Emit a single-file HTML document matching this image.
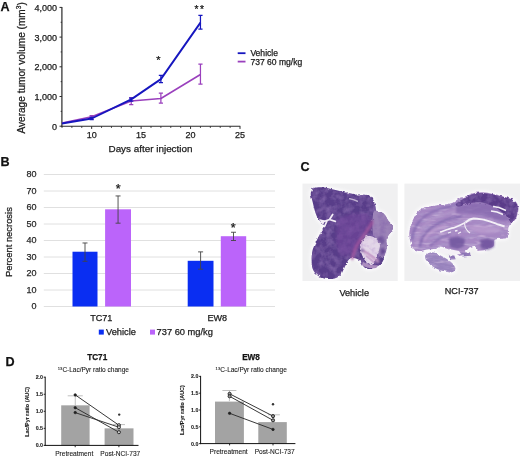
<!DOCTYPE html>
<html><head><meta charset="utf-8"><style>
html,body{margin:0;padding:0;background:#fff;width:520px;height:468px;overflow:hidden}
svg{display:block}
text{font-family:"Liberation Sans", Arial, sans-serif}
text{stroke:#1a1a1a;stroke-width:0.25px}
.s{stroke-width:0.1px}
</style></head><body>
<svg width="520" height="468" viewBox="0 0 520 468">
<text x="0.5" y="11" font-size="12.6" font-weight="bold" fill="#111">A</text>
<line x1="61.9" y1="7" x2="61.9" y2="126.8" stroke="#2a2a2a" stroke-width="1.2"/>
<line x1="61.3" y1="126.3" x2="240.3" y2="126.3" stroke="#2a2a2a" stroke-width="1.1"/>
<line x1="59.50" y1="126.20" x2="61.9" y2="126.20" stroke="#2a2a2a" stroke-width="1"/>
<text x="57" y="129.60" font-size="9" text-anchor="end" fill="#222">0</text>
<line x1="60.70" y1="111.35" x2="61.9" y2="111.35" stroke="#2a2a2a" stroke-width="1"/>
<line x1="59.50" y1="96.50" x2="61.9" y2="96.50" stroke="#2a2a2a" stroke-width="1"/>
<text x="57" y="99.90" font-size="9" text-anchor="end" fill="#222">1,000</text>
<line x1="60.70" y1="81.65" x2="61.9" y2="81.65" stroke="#2a2a2a" stroke-width="1"/>
<line x1="59.50" y1="66.80" x2="61.9" y2="66.80" stroke="#2a2a2a" stroke-width="1"/>
<text x="57" y="70.20" font-size="9" text-anchor="end" fill="#222">2,000</text>
<line x1="60.70" y1="51.95" x2="61.9" y2="51.95" stroke="#2a2a2a" stroke-width="1"/>
<line x1="59.50" y1="37.10" x2="61.9" y2="37.10" stroke="#2a2a2a" stroke-width="1"/>
<text x="57" y="40.50" font-size="9" text-anchor="end" fill="#222">3,000</text>
<line x1="60.70" y1="22.25" x2="61.9" y2="22.25" stroke="#2a2a2a" stroke-width="1"/>
<line x1="59.50" y1="7.40" x2="61.9" y2="7.40" stroke="#2a2a2a" stroke-width="1"/>
<text x="57" y="10.80" font-size="9" text-anchor="end" fill="#222">4,000</text>
<line x1="62.00" y1="126.3" x2="62.00" y2="127.80" stroke="#2a2a2a" stroke-width="1"/>
<line x1="71.89" y1="126.3" x2="71.89" y2="127.80" stroke="#2a2a2a" stroke-width="1"/>
<line x1="81.78" y1="126.3" x2="81.78" y2="127.80" stroke="#2a2a2a" stroke-width="1"/>
<line x1="91.67" y1="126.3" x2="91.67" y2="128.90" stroke="#2a2a2a" stroke-width="1"/>
<text x="91.67" y="138" font-size="9" text-anchor="middle" fill="#222">10</text>
<line x1="101.56" y1="126.3" x2="101.56" y2="127.80" stroke="#2a2a2a" stroke-width="1"/>
<line x1="111.44" y1="126.3" x2="111.44" y2="127.80" stroke="#2a2a2a" stroke-width="1"/>
<line x1="121.33" y1="126.3" x2="121.33" y2="127.80" stroke="#2a2a2a" stroke-width="1"/>
<line x1="131.22" y1="126.3" x2="131.22" y2="127.80" stroke="#2a2a2a" stroke-width="1"/>
<line x1="141.11" y1="126.3" x2="141.11" y2="128.90" stroke="#2a2a2a" stroke-width="1"/>
<text x="141.11" y="138" font-size="9" text-anchor="middle" fill="#222">15</text>
<line x1="151.00" y1="126.3" x2="151.00" y2="127.80" stroke="#2a2a2a" stroke-width="1"/>
<line x1="160.89" y1="126.3" x2="160.89" y2="127.80" stroke="#2a2a2a" stroke-width="1"/>
<line x1="170.78" y1="126.3" x2="170.78" y2="127.80" stroke="#2a2a2a" stroke-width="1"/>
<line x1="180.67" y1="126.3" x2="180.67" y2="127.80" stroke="#2a2a2a" stroke-width="1"/>
<line x1="190.56" y1="126.3" x2="190.56" y2="128.90" stroke="#2a2a2a" stroke-width="1"/>
<text x="190.56" y="138" font-size="9" text-anchor="middle" fill="#222">20</text>
<line x1="200.45" y1="126.3" x2="200.45" y2="127.80" stroke="#2a2a2a" stroke-width="1"/>
<line x1="210.33" y1="126.3" x2="210.33" y2="127.80" stroke="#2a2a2a" stroke-width="1"/>
<line x1="220.22" y1="126.3" x2="220.22" y2="127.80" stroke="#2a2a2a" stroke-width="1"/>
<line x1="230.11" y1="126.3" x2="230.11" y2="127.80" stroke="#2a2a2a" stroke-width="1"/>
<line x1="240.00" y1="126.3" x2="240.00" y2="128.90" stroke="#2a2a2a" stroke-width="1"/>
<text x="240.00" y="138" font-size="9" text-anchor="middle" fill="#222">25</text>
<text x="150.5" y="152.2" font-size="9.9" text-anchor="middle" fill="#222">Days after injection</text>
<text transform="translate(24.9,67.9) rotate(-90)" font-size="10.1" text-anchor="middle" fill="#222">Average tumor volume (mm<tspan font-size="6.5" dy="-3.5">3</tspan><tspan dy="3.5">)</tspan></text>
<polyline points="62.00,123.00 91.67,116.80 131.22,101.00 160.89,98.50 200.45,74.50" fill="none" stroke="#9a40bd" stroke-width="1.55" stroke-linejoin="round"/>
<path d="M89.57,115.50H93.77M91.67,115.50V118.20M89.57,118.20H93.77" stroke="#9a40bd" stroke-width="1.25" fill="none"/>
<path d="M129.12,97.50H133.32M131.22,97.50V104.60M129.12,104.60H133.32" stroke="#9a40bd" stroke-width="1.25" fill="none"/>
<path d="M158.79,93.00H162.99M160.89,93.00V103.20M158.79,103.20H162.99" stroke="#9a40bd" stroke-width="1.25" fill="none"/>
<path d="M198.35,64.00H202.55M200.45,64.00V84.00M198.35,84.00H202.55" stroke="#9a40bd" stroke-width="1.25" fill="none"/>
<polyline points="62.00,123.50 91.67,118.50 131.22,99.40 160.89,79.10 200.45,22.60" fill="none" stroke="#1616bf" stroke-width="1.9" stroke-linejoin="round"/>
<path d="M89.57,117.30H93.77M91.67,117.30V119.70M89.57,119.70H93.77" stroke="#1616bf" stroke-width="1.25" fill="none"/>
<path d="M129.12,98.00H133.32M131.22,98.00V101.00M129.12,101.00H133.32" stroke="#1616bf" stroke-width="1.25" fill="none"/>
<path d="M158.79,75.40H162.99M160.89,75.40V82.50M158.79,82.50H162.99" stroke="#1616bf" stroke-width="1.25" fill="none"/>
<path d="M198.35,15.30H202.55M200.45,15.30V29.20M198.35,29.20H202.55" stroke="#1616bf" stroke-width="1.25" fill="none"/>
<text x="158.49" y="63.7" font-size="11" text-anchor="middle" fill="#111">*</text>
<text x="199.9" y="12.5" font-size="10.2" letter-spacing="1.5" text-anchor="middle" fill="#111">**</text>
<line x1="237.7" y1="53.2" x2="245.5" y2="53.2" stroke="#1616bf" stroke-width="1.8"/>
<line x1="237.7" y1="61.6" x2="245.5" y2="61.6" stroke="#9a40bd" stroke-width="1.8"/>
<text x="250.4" y="56.4" font-size="8.55" fill="#222">Vehicle</text>
<text x="250.4" y="65" font-size="8.55" fill="#222">737 60 mg/kg</text>
<text x="0.6" y="166" font-size="12.6" font-weight="bold" fill="#111">B</text>
<line x1="43.8" y1="306.50" x2="275" y2="306.50" stroke="#e0e0e0" stroke-width="1"/>
<text x="36.6" y="309.10" font-size="9" text-anchor="end" fill="#333">0</text>
<line x1="43.8" y1="290.00" x2="275" y2="290.00" stroke="#e0e0e0" stroke-width="1"/>
<text x="36.6" y="292.60" font-size="9" text-anchor="end" fill="#333">10</text>
<line x1="43.8" y1="273.50" x2="275" y2="273.50" stroke="#e0e0e0" stroke-width="1"/>
<text x="36.6" y="276.10" font-size="9" text-anchor="end" fill="#333">20</text>
<line x1="43.8" y1="257.00" x2="275" y2="257.00" stroke="#e0e0e0" stroke-width="1"/>
<text x="36.6" y="259.60" font-size="9" text-anchor="end" fill="#333">30</text>
<line x1="43.8" y1="240.50" x2="275" y2="240.50" stroke="#e0e0e0" stroke-width="1"/>
<text x="36.6" y="243.10" font-size="9" text-anchor="end" fill="#333">40</text>
<line x1="43.8" y1="224.00" x2="275" y2="224.00" stroke="#e0e0e0" stroke-width="1"/>
<text x="36.6" y="226.60" font-size="9" text-anchor="end" fill="#333">50</text>
<line x1="43.8" y1="207.50" x2="275" y2="207.50" stroke="#e0e0e0" stroke-width="1"/>
<text x="36.6" y="210.10" font-size="9" text-anchor="end" fill="#333">60</text>
<line x1="43.8" y1="191.00" x2="275" y2="191.00" stroke="#e0e0e0" stroke-width="1"/>
<text x="36.6" y="193.60" font-size="9" text-anchor="end" fill="#333">70</text>
<line x1="43.8" y1="174.50" x2="275" y2="174.50" stroke="#e0e0e0" stroke-width="1"/>
<text x="36.6" y="177.10" font-size="9" text-anchor="end" fill="#333">80</text>
<text transform="translate(12.3,242.1) rotate(-90)" font-size="9.4" text-anchor="middle" fill="#222">Percent necrosis</text>
<rect x="72.5" y="251.72" width="25.00" height="54.78" fill="#0a2ef2"/>
<rect x="105.1" y="209.31" width="25.90" height="97.19" fill="#bb64fa"/>
<rect x="187.7" y="260.80" width="25.80" height="45.70" fill="#0a2ef2"/>
<rect x="220.8" y="236.21" width="25.40" height="70.29" fill="#bb64fa"/>
<path d="M82.50,242.97H87.50M85.00,242.97V261.29M82.50,261.29H87.50" stroke="#444" stroke-width="0.9" fill="none"/>
<path d="M115.55,195.95H120.55M118.05,195.95V223.18M115.55,223.18H120.55" stroke="#444" stroke-width="0.9" fill="none"/>
<path d="M198.10,251.88H203.10M200.60,251.88V269.21M198.10,269.21H203.10" stroke="#444" stroke-width="0.9" fill="none"/>
<path d="M231.00,232.25H236.00M233.50,232.25V240.50M231.00,240.50H236.00" stroke="#444" stroke-width="0.9" fill="none"/>
<text x="118.3" y="193.1" font-size="12.5" text-anchor="middle" fill="#111">*</text>
<text x="233.1" y="231.6" font-size="12.5" text-anchor="middle" fill="#111">*</text>
<text x="101.3" y="321.2" font-size="9.1" text-anchor="middle" fill="#222">TC71</text>
<text x="217.3" y="321.2" font-size="9.1" text-anchor="middle" fill="#222">EW8</text>
<rect x="98.8" y="329.6" width="5" height="5" fill="#0a2ef2"/>
<text x="106" y="335.2" font-size="9.3" fill="#222">Vehicle</text>
<rect x="150" y="329.6" width="5" height="5" fill="#bb64fa"/>
<text x="156.6" y="335.2" font-size="9.3" fill="#222">737 60 mg/kg</text>
<text x="5.4" y="366" font-size="12.6" font-weight="bold" fill="#111">D</text>
<text x="97.2" y="360.0" font-size="8.2" font-weight="bold" text-anchor="middle" fill="#111">TC71</text>
<text x="93.3" y="372.2" font-size="6.5" class="s" text-anchor="middle" fill="#222"><tspan font-size="4.2" dy="-2.2">13</tspan><tspan dy="2.2">C-Lac/Pyr ratio change</tspan></text>
<rect x="61.2" y="405.33" width="28.40" height="40.07" fill="#a3a3a3"/>
<rect x="104.6" y="428.35" width="28.90" height="17.05" fill="#a3a3a3"/>
<path d="M67.7,395.8H82.8M75.25,395.8V405.4" stroke="#b0b0b0" stroke-width="0.8" fill="none"/>
<path d="M113,424.6H125M119.0,424.6V428.5" stroke="#b0b0b0" stroke-width="0.8" fill="none"/>
<line x1="45.2" y1="376.70" x2="45.2" y2="445.90" stroke="#111" stroke-width="1"/>
<line x1="44.7" y1="445.4" x2="138.5" y2="445.4" stroke="#111" stroke-width="1"/>
<line x1="43.7" y1="445.40" x2="45.2" y2="445.40" stroke="#111" stroke-width="0.9"/>
<text x="43.0" y="447.30" font-size="5.3" class="s" font-weight="bold" text-anchor="end" fill="#222">0.0</text>
<line x1="43.7" y1="428.35" x2="45.2" y2="428.35" stroke="#111" stroke-width="0.9"/>
<text x="43.0" y="430.25" font-size="5.3" class="s" font-weight="bold" text-anchor="end" fill="#222">0.5</text>
<line x1="43.7" y1="411.30" x2="45.2" y2="411.30" stroke="#111" stroke-width="0.9"/>
<text x="43.0" y="413.20" font-size="5.3" class="s" font-weight="bold" text-anchor="end" fill="#222">1.0</text>
<line x1="43.7" y1="394.25" x2="45.2" y2="394.25" stroke="#111" stroke-width="0.9"/>
<text x="43.0" y="396.15" font-size="5.3" class="s" font-weight="bold" text-anchor="end" fill="#222">1.5</text>
<line x1="43.7" y1="377.20" x2="45.2" y2="377.20" stroke="#111" stroke-width="0.9"/>
<text x="43.0" y="379.10" font-size="5.3" class="s" font-weight="bold" text-anchor="end" fill="#222">2.0</text>
<line x1="75.2" y1="445.4" x2="75.2" y2="447.2" stroke="#111" stroke-width="0.9"/>
<line x1="118.9" y1="445.4" x2="118.9" y2="447.2" stroke="#111" stroke-width="0.9"/>
<text transform="translate(28.5,411.90) rotate(-90)" font-size="5.45" class="s" font-weight="bold" text-anchor="middle" fill="#222">Lac/Pyr ratio (AUC)</text>
<line x1="75.2" y1="394.9" x2="118.9" y2="425.2" stroke="#2e2e2e" stroke-width="0.95"/>
<line x1="75.2" y1="407.7" x2="118.9" y2="432.2" stroke="#2e2e2e" stroke-width="0.95"/>
<line x1="75.2" y1="412.6" x2="118.9" y2="427.2" stroke="#2e2e2e" stroke-width="0.95"/>
<circle cx="75.2" cy="394.9" r="1.25" fill="#222" stroke="#1e1e1e" stroke-width="0.6"/>
<circle cx="75.2" cy="407.7" r="1.25" fill="#222" stroke="#1e1e1e" stroke-width="0.6"/>
<circle cx="75.2" cy="412.6" r="1.25" fill="#222" stroke="#1e1e1e" stroke-width="0.6"/>
<circle cx="118.9" cy="425.2" r="1.55" fill="#cfcfcf" stroke="#1e1e1e" stroke-width="0.9"/>
<circle cx="118.9" cy="427.2" r="1.55" fill="#cfcfcf" stroke="#1e1e1e" stroke-width="0.9"/>
<circle cx="118.9" cy="432.2" r="1.55" fill="#cfcfcf" stroke="#1e1e1e" stroke-width="0.9"/>
<circle cx="119.2" cy="414.6" r="1.2" fill="#333"/>
<text x="74.2" y="456.3" font-size="6.6" class="s" text-anchor="middle" fill="#222">Pretreatment</text>
<text x="120.30000000000001" y="456.3" font-size="6.6" class="s" text-anchor="middle" fill="#222">Post-NCI-737</text>
<text x="251" y="359.7" font-size="8.2" font-weight="bold" text-anchor="middle" fill="#111">EW8</text>
<text x="251.2" y="372.3" font-size="6.5" class="s" text-anchor="middle" fill="#222"><tspan font-size="4.2" dy="-2.2">13</tspan><tspan dy="2.2">C-Lac/Pyr ratio change</tspan></text>
<rect x="215" y="401.60" width="28.90" height="42.00" fill="#a3a3a3"/>
<rect x="258.3" y="422.10" width="28.50" height="21.50" fill="#a3a3a3"/>
<path d="M222.4,390.5H236.4M229.4,390.5V401.1" stroke="#b0b0b0" stroke-width="0.8" fill="none"/>
<path d="M268,414.8H279.9M273.95,414.8V422.1" stroke="#b0b0b0" stroke-width="0.8" fill="none"/>
<line x1="200.6" y1="375.90" x2="200.6" y2="444.10" stroke="#111" stroke-width="1"/>
<line x1="200.1" y1="443.6" x2="295.4" y2="443.6" stroke="#111" stroke-width="1"/>
<line x1="199.1" y1="443.60" x2="200.6" y2="443.60" stroke="#111" stroke-width="0.9"/>
<text x="198.4" y="445.50" font-size="5.3" class="s" font-weight="bold" text-anchor="end" fill="#222">0.0</text>
<line x1="199.1" y1="426.80" x2="200.6" y2="426.80" stroke="#111" stroke-width="0.9"/>
<text x="198.4" y="428.70" font-size="5.3" class="s" font-weight="bold" text-anchor="end" fill="#222">0.5</text>
<line x1="199.1" y1="410.00" x2="200.6" y2="410.00" stroke="#111" stroke-width="0.9"/>
<text x="198.4" y="411.90" font-size="5.3" class="s" font-weight="bold" text-anchor="end" fill="#222">1.0</text>
<line x1="199.1" y1="393.20" x2="200.6" y2="393.20" stroke="#111" stroke-width="0.9"/>
<text x="198.4" y="395.10" font-size="5.3" class="s" font-weight="bold" text-anchor="end" fill="#222">1.5</text>
<line x1="199.1" y1="376.40" x2="200.6" y2="376.40" stroke="#111" stroke-width="0.9"/>
<text x="198.4" y="378.30" font-size="5.3" class="s" font-weight="bold" text-anchor="end" fill="#222">2.0</text>
<line x1="229.6" y1="443.6" x2="229.6" y2="445.40000000000003" stroke="#111" stroke-width="0.9"/>
<line x1="273" y1="443.6" x2="273" y2="445.40000000000003" stroke="#111" stroke-width="0.9"/>
<text transform="translate(184.2,410.10) rotate(-90)" font-size="5.45" class="s" font-weight="bold" text-anchor="middle" fill="#222">Lac/Pyr ratio (AUC)</text>
<line x1="229.6" y1="393.8" x2="273" y2="416.1" stroke="#2e2e2e" stroke-width="0.95"/>
<line x1="229.6" y1="396.3" x2="273" y2="420.3" stroke="#2e2e2e" stroke-width="0.95"/>
<line x1="229.6" y1="413.3" x2="273" y2="429.4" stroke="#2e2e2e" stroke-width="0.95"/>
<circle cx="229.6" cy="393.8" r="1.55" fill="#9a9a9a" stroke="#1e1e1e" stroke-width="0.9"/>
<circle cx="229.6" cy="396.3" r="1.55" fill="#9a9a9a" stroke="#1e1e1e" stroke-width="0.9"/>
<circle cx="229.6" cy="413.3" r="1.25" fill="#222" stroke="#1e1e1e" stroke-width="0.6"/>
<circle cx="273" cy="416.1" r="1.55" fill="#9a9a9a" stroke="#1e1e1e" stroke-width="0.9"/>
<circle cx="273" cy="420.3" r="1.55" fill="#9a9a9a" stroke="#1e1e1e" stroke-width="0.9"/>
<circle cx="273" cy="429.4" r="1.25" fill="#222" stroke="#1e1e1e" stroke-width="0.6"/>
<circle cx="273" cy="404.3" r="1.2" fill="#333"/>
<text x="228.6" y="454" font-size="6.6" class="s" text-anchor="middle" fill="#222">Pretreatment</text>
<text x="274.7" y="454" font-size="6.6" class="s" text-anchor="middle" fill="#222">Post-NCI-737</text>
<text x="300.6" y="171.2" font-size="12.6" font-weight="bold" fill="#111">C</text>
<rect x="302.5" y="183.6" width="95.2" height="97.4" fill="#f0f0f1"/>
<rect x="404.4" y="183.6" width="115.6" height="97.4" fill="#f0f0f1"/>
<text x="354.2" y="296.2" font-size="9.2" text-anchor="middle" fill="#222">Vehicle</text>
<text x="461.7" y="294.3" font-size="9.1" text-anchor="middle" fill="#222">NCI-737</text>
<defs>
<filter id="rough" x="-10%" y="-10%" width="120%" height="120%">
 <feTurbulence type="fractalNoise" baseFrequency="0.3" numOctaves="2" seed="4" result="n"/>
 <feDisplacementMap in="SourceGraphic" in2="n" scale="3" xChannelSelector="R" yChannelSelector="G" result="d"/>
 <feTurbulence type="fractalNoise" baseFrequency="0.15" numOctaves="3" seed="9" result="n2"/>
 <feColorMatrix in="n2" type="matrix" values="0 0 0 0 0.24  0 0 0 0 0.14  0 0 0 0 0.42  1.6 0 0 0 -0.6" result="spots"/>
 <feComposite in="spots" in2="d" operator="in" result="sp"/>
 <feMerge><feMergeNode in="d"/><feMergeNode in="sp"/></feMerge>
</filter>
<filter id="roughR" x="-10%" y="-10%" width="120%" height="120%">
 <feTurbulence type="fractalNoise" baseFrequency="0.3" numOctaves="2" seed="4" result="n"/>
 <feDisplacementMap in="SourceGraphic" in2="n" scale="3" xChannelSelector="R" yChannelSelector="G" result="d"/>
 <feTurbulence type="fractalNoise" baseFrequency="0.09 0.3" numOctaves="3" seed="12" result="n2"/>
 <feColorMatrix in="n2" type="matrix" values="0 0 0 0 0.42  0 0 0 0 0.32  0 0 0 0 0.6  2.0 0 0 0 -0.85" result="spots"/>
 <feComposite in="spots" in2="d" operator="in" result="sp"/>
 <feTurbulence type="fractalNoise" baseFrequency="0.08 0.28" numOctaves="2" seed="31" result="n3"/>
 <feColorMatrix in="n3" type="matrix" values="0 0 0 0 0.78  0 0 0 0 0.62  0 0 0 0 0.84  0 1.4 0 0 -0.75" result="lights"/>
 <feComposite in="lights" in2="d" operator="in" result="li"/>
 <feMerge><feMergeNode in="d"/><feMergeNode in="sp"/><feMergeNode in="li"/></feMerge>
</filter>
<filter id="roughN" x="-20%" y="-20%" width="140%" height="140%">
 <feTurbulence type="fractalNoise" baseFrequency="0.35" numOctaves="2" seed="7" result="n"/>
 <feDisplacementMap in="SourceGraphic" in2="n" scale="4" xChannelSelector="R" yChannelSelector="G" result="d"/>
 <feTurbulence type="fractalNoise" baseFrequency="0.25" numOctaves="2" seed="17" result="n2"/>
 <feColorMatrix in="n2" type="matrix" values="0 0 0 0 0.62  0 0 0 0 0.48  0 0 0 0 0.72  2.2 0 0 0 -0.95" result="spots"/>
 <feComposite in="spots" in2="d" operator="in" result="sp"/>
 <feMerge><feMergeNode in="d"/><feMergeNode in="sp"/></feMerge>
 <feGaussianBlur stdDeviation="0.7"/>
</filter>
<filter id="soft" x="-10%" y="-10%" width="120%" height="120%"><feGaussianBlur stdDeviation="0.55"/></filter>
<filter id="b1" x="-20%" y="-20%" width="140%" height="140%"><feGaussianBlur stdDeviation="1.1"/></filter>
<filter id="halo" x="-20%" y="-20%" width="140%" height="140%"><feGaussianBlur stdDeviation="1.6"/></filter>
</defs>
<g filter="url(#halo)" fill="#fbfafc">
<path d="M311.7,190.7 C312.3,189.6 312.8,188.4 314.6,187.8 C316.4,187.2 319.7,187.1 322.3,187.3 C324.9,187.5 327.3,188.2 330.0,188.8 C332.7,189.4 336.0,190.1 338.7,190.7 C341.4,191.3 343.6,192.0 346.3,192.6 C349.0,193.2 353.1,194.0 355.0,194.5 C356.9,195.0 356.7,195.5 358.0,195.5 C359.3,195.5 360.9,194.7 362.6,194.7 C364.4,194.7 366.9,194.8 368.5,195.3 C370.1,195.8 371.0,196.4 372.0,197.6 C373.0,198.8 373.7,200.7 374.3,202.3 C374.9,203.9 375.1,205.4 375.5,207.0 C375.9,208.6 375.7,210.8 376.7,211.7 C377.7,212.6 380.0,211.7 381.4,212.3 C382.8,212.9 383.7,213.7 384.9,215.2 C386.1,216.7 387.2,219.5 388.4,221.1 C389.6,222.7 391.2,223.4 392.0,224.6 C392.8,225.8 393.3,226.9 393.1,228.1 C392.9,229.3 391.6,230.4 390.8,231.6 C390.0,232.8 389.2,233.8 388.4,235.0 C387.6,236.2 386.4,236.9 386.0,239.0 C385.6,241.1 386.5,244.8 386.3,247.3 C386.1,249.8 385.2,251.7 384.6,254.0 C384.1,256.3 384.1,259.0 383.0,261.0 C381.9,263.0 380.3,264.7 378.0,266.0 C375.7,267.3 371.4,268.9 369.0,269.0 C366.6,269.1 365.2,268.0 363.8,266.7 C362.4,265.4 361.6,262.4 360.3,261.0 C359.0,259.6 357.6,259.0 356.0,258.5 C354.4,258.0 352.4,257.5 351.0,258.0 C349.6,258.5 348.6,259.9 347.5,261.5 C346.4,263.1 345.5,265.5 344.5,267.5 C343.5,269.5 342.8,271.8 341.5,273.5 C340.2,275.2 338.6,276.6 337.0,277.5 C335.4,278.4 333.7,278.8 331.7,279.0 C329.7,279.2 327.1,279.1 325.0,278.7 C322.9,278.2 320.7,277.3 319.0,276.3 C317.3,275.3 316.0,274.1 314.8,272.5 C313.6,270.9 312.5,269.0 312.0,266.5 C311.5,264.0 311.6,260.2 311.7,257.3 C311.8,254.4 312.1,251.8 312.9,249.1 C313.7,246.4 315.2,243.4 316.4,240.9 C317.6,238.4 318.8,236.1 320.0,233.9 C321.2,231.8 322.8,229.6 323.5,228.0 C324.2,226.4 324.6,225.2 324.2,224.3 C323.8,223.4 322.4,223.5 321.3,222.4 C320.2,221.3 318.6,219.7 317.5,217.6 C316.4,215.5 315.4,212.5 314.6,209.9 C313.8,207.3 313.3,204.8 312.7,202.2 C312.1,199.6 311.0,196.4 310.8,194.5 C310.6,192.6 311.1,191.8 311.7,190.7 Z" stroke="#fbfafc" stroke-width="4"/>
<path d="M414.2,217.2 C416.0,213.6 417.8,211.3 420.4,209.5 C423.0,207.7 426.3,207.2 429.6,206.5 C432.9,205.8 436.8,205.5 440.4,205.0 C444.0,204.5 447.9,204.4 451.0,203.4 C454.1,202.4 456.5,200.0 458.8,198.8 C461.1,197.7 462.4,197.5 465.0,196.5 C467.6,195.5 470.9,193.7 474.2,193.0 C477.5,192.3 481.5,192.2 485.0,192.5 C488.5,192.8 491.2,193.7 495.0,194.6 C498.8,195.5 504.7,196.8 507.9,197.8 C511.1,198.8 512.4,199.4 514.0,200.5 C515.6,201.6 516.8,202.5 517.5,204.2 C518.2,205.9 518.6,208.2 518.3,210.6 C518.0,213.0 517.1,216.5 515.9,218.7 C514.7,220.8 512.2,222.1 511.0,223.5 C509.8,224.9 509.0,225.7 508.5,227.0 C508.0,228.3 508.3,229.7 507.9,231.5 C507.5,233.3 508.4,236.6 506.3,237.9 C504.2,239.2 497.1,238.2 495.0,239.5 C492.9,240.8 494.8,244.4 493.5,246.0 C492.2,247.6 489.4,248.2 487.0,249.0 C484.6,249.8 481.1,251.2 479.0,250.7 C476.9,250.2 476.1,246.3 474.2,246.0 C472.3,245.7 469.4,247.7 467.8,249.0 C466.2,250.3 466.2,252.8 464.6,253.9 C463.0,255.0 460.1,256.0 458.2,255.5 C456.3,255.0 455.0,252.2 453.0,251.0 C451.0,249.8 448.1,249.2 446.0,248.5 C443.9,247.8 442.1,246.4 440.4,246.5 C438.7,246.6 438.1,248.3 435.8,248.8 C433.5,249.3 429.1,249.1 426.5,249.5 C423.9,249.9 422.4,251.0 420.4,251.0 C418.3,251.0 415.9,251.0 414.2,249.5 C412.5,248.0 411.2,244.9 410.4,241.8 C409.6,238.7 409.0,235.1 409.6,231.0 C410.2,226.9 412.4,220.8 414.2,217.2 Z" stroke="#fbfafc" stroke-width="4"/>
<path d="M426.5,253.8 C428.0,252.8 431.7,252.1 434.6,252.7 C437.5,253.3 440.9,255.6 443.8,257.3 C446.7,259.0 450.0,261.2 451.9,263.1 C453.8,265.0 455.4,267.3 455.4,268.8 C455.4,270.3 453.8,271.9 451.9,272.3 C450.0,272.7 446.7,272.0 443.8,271.2 C440.9,270.4 437.1,269.0 434.6,267.7 C432.1,266.4 430.3,264.6 428.8,263.1 C427.3,261.6 425.8,260.1 425.4,258.5 C425.0,256.9 425.0,254.8 426.5,253.8 Z" stroke="#fbfafc" stroke-width="4"/>
</g>
<g filter="url(#soft)">
<g filter="url(#rough)">
<path d="M311.7,190.7 C312.3,189.6 312.8,188.4 314.6,187.8 C316.4,187.2 319.7,187.1 322.3,187.3 C324.9,187.5 327.3,188.2 330.0,188.8 C332.7,189.4 336.0,190.1 338.7,190.7 C341.4,191.3 343.6,192.0 346.3,192.6 C349.0,193.2 353.1,194.0 355.0,194.5 C356.9,195.0 356.7,195.5 358.0,195.5 C359.3,195.5 360.9,194.7 362.6,194.7 C364.4,194.7 366.9,194.8 368.5,195.3 C370.1,195.8 371.0,196.4 372.0,197.6 C373.0,198.8 373.7,200.7 374.3,202.3 C374.9,203.9 375.1,205.4 375.5,207.0 C375.9,208.6 375.7,210.8 376.7,211.7 C377.7,212.6 380.0,211.7 381.4,212.3 C382.8,212.9 383.7,213.7 384.9,215.2 C386.1,216.7 387.2,219.5 388.4,221.1 C389.6,222.7 391.2,223.4 392.0,224.6 C392.8,225.8 393.3,226.9 393.1,228.1 C392.9,229.3 391.6,230.4 390.8,231.6 C390.0,232.8 389.2,233.8 388.4,235.0 C387.6,236.2 386.4,236.9 386.0,239.0 C385.6,241.1 386.5,244.8 386.3,247.3 C386.1,249.8 385.2,251.7 384.6,254.0 C384.1,256.3 384.1,259.0 383.0,261.0 C381.9,263.0 380.3,264.7 378.0,266.0 C375.7,267.3 371.4,268.9 369.0,269.0 C366.6,269.1 365.2,268.0 363.8,266.7 C362.4,265.4 361.6,262.4 360.3,261.0 C359.0,259.6 357.6,259.0 356.0,258.5 C354.4,258.0 352.4,257.5 351.0,258.0 C349.6,258.5 348.6,259.9 347.5,261.5 C346.4,263.1 345.5,265.5 344.5,267.5 C343.5,269.5 342.8,271.8 341.5,273.5 C340.2,275.2 338.6,276.6 337.0,277.5 C335.4,278.4 333.7,278.8 331.7,279.0 C329.7,279.2 327.1,279.1 325.0,278.7 C322.9,278.2 320.7,277.3 319.0,276.3 C317.3,275.3 316.0,274.1 314.8,272.5 C313.6,270.9 312.5,269.0 312.0,266.5 C311.5,264.0 311.6,260.2 311.7,257.3 C311.8,254.4 312.1,251.8 312.9,249.1 C313.7,246.4 315.2,243.4 316.4,240.9 C317.6,238.4 318.8,236.1 320.0,233.9 C321.2,231.8 322.8,229.6 323.5,228.0 C324.2,226.4 324.6,225.2 324.2,224.3 C323.8,223.4 322.4,223.5 321.3,222.4 C320.2,221.3 318.6,219.7 317.5,217.6 C316.4,215.5 315.4,212.5 314.6,209.9 C313.8,207.3 313.3,204.8 312.7,202.2 C312.1,199.6 311.0,196.4 310.8,194.5 C310.6,192.6 311.1,191.8 311.7,190.7 Z" fill="#583d89"/>
</g>
<path d="M338.1,218.1 L352,214 L367.3,213.6 L371.7,220.4 L362.8,238.3 L351.6,254 L340.4,256.2 L335.9,242.8 Z" fill="#73479c" opacity="0.6" filter="url(#halo)"/>
<path d="M349,198.5 C352,199 355,200 358,201.5" stroke="#e6dcec" stroke-width="1.6" fill="none" opacity="0.7" filter="url(#soft)"/>
<g filter="url(#rough)"><path d="M374.0,211.0 C375.2,209.7 378.2,211.3 380.0,212.0 C381.8,212.7 383.6,213.5 385.0,215.0 C386.4,216.5 387.3,219.4 388.5,221.0 C389.7,222.6 391.2,223.4 392.0,224.6 C392.8,225.8 393.2,226.8 393.0,228.0 C392.8,229.2 391.8,230.8 391.0,232.0 C390.2,233.2 389.2,234.2 388.5,235.5 C387.8,236.8 386.8,238.1 386.5,240.0 C386.2,241.9 387.2,244.7 387.0,247.0 C386.8,249.3 385.8,252.2 385.0,254.0 C384.2,255.8 383.2,258.0 382.0,258.0 C380.8,258.0 378.8,256.0 378.0,254.0 C377.2,252.0 377.7,248.5 377.0,246.0 C376.3,243.5 374.8,241.7 374.0,239.0 C373.2,236.3 372.8,233.2 372.5,230.0 C372.2,226.8 372.2,223.2 372.5,220.0 C372.8,216.8 372.8,212.3 374.0,211.0 Z" fill="#9d84b8"/></g>
<g filter="url(#roughN)"><path d="M366.0,236.0 C367.7,235.2 370.2,235.9 372.0,236.5 C373.8,237.1 375.7,238.1 377.0,239.5 C378.3,240.9 379.8,242.9 380.0,245.0 C380.2,247.1 379.2,249.7 378.5,252.0 C377.8,254.3 377.1,256.8 376.0,259.0 C374.9,261.2 373.5,264.3 372.0,265.0 C370.5,265.7 368.5,264.3 367.0,263.0 C365.5,261.7 364.1,259.3 363.0,257.0 C361.9,254.7 360.7,251.7 360.5,249.0 C360.3,246.3 361.1,243.2 362.0,241.0 C362.9,238.8 364.3,236.8 366.0,236.0 Z" fill="#e3d6e8"/></g>
<path d="M366,256 C369,258 372,260 374,263 M364,251 C368,253 371,255 375,258" stroke="#c9a6d0" stroke-width="1.6" fill="none" opacity="0.9" filter="url(#soft)"/>
<path d="M363,262 C367,264 372,266 378,265 L376,268 C370,269 365,267 362,265 Z" fill="#ad8ec0" filter="url(#soft)"/>
<path d="M379,236 l4,1 l2,5 l-3,3 l-3,-4 z M380,248 l4,-1 l1,5 l-3,5 l-2,-4 z" fill="#6a5096" opacity="0.7" filter="url(#b1)"/>
<path d="M362,250 C368,254 373,258 379,262" stroke="#c69bc8" stroke-width="2.2" fill="none" filter="url(#b1)"/>
<path d="M360,250.8 l2.5,-2 l1.5,3 z M381.5,252.3 l2,-3 l1.5,3.5 z M377,238.5 l3,0 l-1,3 z" fill="#4e3184" filter="url(#b1)"/>
<path d="M372.0,220.0 C372.9,219.5 374.0,221.2 373.5,223.0 C373.0,224.8 370.8,228.3 369.0,231.0 C367.2,233.7 364.8,236.5 363.0,239.0 C361.2,241.5 359.8,243.5 358.5,246.0 C357.2,248.5 356.3,251.5 355.4,253.8 C354.5,256.1 353.7,259.2 353.0,260.0 C352.3,260.8 351.0,260.2 351.0,258.5 C351.0,256.8 352.0,252.8 353.0,250.0 C354.0,247.2 355.3,244.7 357.0,242.0 C358.7,239.3 361.2,236.7 363.0,234.0 C364.8,231.3 366.5,228.3 368.0,226.0 C369.5,223.7 371.1,220.5 372.0,220.0 Z" fill="#a0569f" opacity="0.85" filter="url(#b1)"/>
<path d="M321,222.5 L329.5,219.5 L332.7,214.4 M329.5,219.5 L335.3,221.4 M327,221 L324.5,226.5" stroke="#f2ecf5" stroke-width="1.8" fill="none" stroke-linecap="round"/>
<path d="M319,219 L325,220.5 L323,225 Z" fill="#f2ecf5"/>
<g filter="url(#roughR)">
<path d="M414.2,217.2 C416.0,213.6 417.8,211.3 420.4,209.5 C423.0,207.7 426.3,207.2 429.6,206.5 C432.9,205.8 436.8,205.5 440.4,205.0 C444.0,204.5 447.9,204.4 451.0,203.4 C454.1,202.4 456.5,200.0 458.8,198.8 C461.1,197.7 462.4,197.5 465.0,196.5 C467.6,195.5 470.9,193.7 474.2,193.0 C477.5,192.3 481.5,192.2 485.0,192.5 C488.5,192.8 491.2,193.7 495.0,194.6 C498.8,195.5 504.7,196.8 507.9,197.8 C511.1,198.8 512.4,199.4 514.0,200.5 C515.6,201.6 516.8,202.5 517.5,204.2 C518.2,205.9 518.6,208.2 518.3,210.6 C518.0,213.0 517.1,216.5 515.9,218.7 C514.7,220.8 512.2,222.1 511.0,223.5 C509.8,224.9 509.0,225.7 508.5,227.0 C508.0,228.3 508.3,229.7 507.9,231.5 C507.5,233.3 508.4,236.6 506.3,237.9 C504.2,239.2 497.1,238.2 495.0,239.5 C492.9,240.8 494.8,244.4 493.5,246.0 C492.2,247.6 489.4,248.2 487.0,249.0 C484.6,249.8 481.1,251.2 479.0,250.7 C476.9,250.2 476.1,246.3 474.2,246.0 C472.3,245.7 469.4,247.7 467.8,249.0 C466.2,250.3 466.2,252.8 464.6,253.9 C463.0,255.0 460.1,256.0 458.2,255.5 C456.3,255.0 455.0,252.2 453.0,251.0 C451.0,249.8 448.1,249.2 446.0,248.5 C443.9,247.8 442.1,246.4 440.4,246.5 C438.7,246.6 438.1,248.3 435.8,248.8 C433.5,249.3 429.1,249.1 426.5,249.5 C423.9,249.9 422.4,251.0 420.4,251.0 C418.3,251.0 415.9,251.0 414.2,249.5 C412.5,248.0 411.2,244.9 410.4,241.8 C409.6,238.7 409.0,235.1 409.6,231.0 C410.2,226.9 412.4,220.8 414.2,217.2 Z" fill="#a687c3"/>
<path d="M426.5,253.8 C428.0,252.8 431.7,252.1 434.6,252.7 C437.5,253.3 440.9,255.6 443.8,257.3 C446.7,259.0 450.0,261.2 451.9,263.1 C453.8,265.0 455.4,267.3 455.4,268.8 C455.4,270.3 453.8,271.9 451.9,272.3 C450.0,272.7 446.7,272.0 443.8,271.2 C440.9,270.4 437.1,269.0 434.6,267.7 C432.1,266.4 430.3,264.6 428.8,263.1 C427.3,261.6 425.8,260.1 425.4,258.5 C425.0,256.9 425.0,254.8 426.5,253.8 Z" fill="#9883bd"/>
<path d="M448.8,255.6 l5.5,-0.2 l1.3,3.8 l-5.5,0.4 z M461.5,252.8 l8.5,-0.5 l0.5,3.5 l-8,0.8 z" fill="#8d76b6"/>
</g>
<g fill="none" filter="url(#b1)" opacity="0.9">
<path d="M412,240 C413,226 422,214 440,209 C448,207 454,206 460,203" stroke="#7c63ad" stroke-width="1.8"/>
<path d="M416,246 C416,232 426,220 444,214 C452,212 458,211 464,209" stroke="#b89ccd" stroke-width="1.6"/>
<path d="M420,247 C421,236 430,226 446,220 C452,218 458,217 462,216" stroke="#765ca8" stroke-width="1.7"/>
<path d="M424,240 C428,232 436,228 446,226" stroke="#c3a2d2" stroke-width="2.2"/>
<path d="M430,246 C436,240 442,236 450,234" stroke="#7e64ad" stroke-width="1.6"/>
</g>
<path d="M456,207 C465,203 480,201 492,204 C500,207 507,213 510,220 C504,222 496,220 488,217 C478,214 466,213 456,213 Z" fill="#8465ad" opacity="0.75" filter="url(#b1)"/>
<path d="M468,226 C478,224 490,226 502,229 C500,233 490,234 480,233 C474,232 470,230 468,226 Z" fill="#c2a3d3" opacity="0.6" filter="url(#b1)"/>
<path d="M449,238 L458,236.5 L465,239 L464,246 L458,249 L450,247 Z" fill="#6c519c" opacity="0.8" filter="url(#b1)"/>
<path d="M480,240 L488,238.5 L494.5,240.5 L494,247 L488,250 L481,248 Z" fill="#6a4e9a" opacity="0.8" filter="url(#b1)"/>
<g filter="url(#rough)"><path d="M456.0,204.0 C457.0,202.6 462.0,199.7 465.0,198.0 C468.0,196.3 470.9,194.6 474.2,193.8 C477.5,193.0 481.5,193.0 485.0,193.2 C488.5,193.4 491.2,194.2 495.0,195.0 C498.8,195.8 504.7,197.2 507.9,198.2 C511.1,199.2 512.5,199.9 514.0,201.0 C515.5,202.1 516.4,202.9 517.0,204.5 C517.6,206.1 517.9,208.3 517.6,210.6 C517.4,212.8 516.6,216.0 515.5,218.0 C514.4,220.0 512.2,222.5 511.0,222.5 C509.8,222.5 509.3,219.6 508.0,218.0 C506.7,216.4 504.8,214.6 503.0,213.0 C501.2,211.4 499.2,209.8 497.0,208.5 C494.8,207.2 492.5,206.0 490.0,205.0 C487.5,204.0 484.7,202.9 482.0,202.5 C479.3,202.1 476.7,202.2 474.0,202.5 C471.3,202.8 468.5,203.3 466.0,204.0 C463.5,204.7 460.7,206.5 459.0,206.5 C457.3,206.5 455.0,205.4 456.0,204.0 Z" fill="#5a3b89"/></g>
<g fill="none" stroke="#f4f0f7" filter="url(#soft)">
<path d="M440,232 C446,230 450,228.5 453.5,227.9 C458,226 462,224.5 465.6,222.5" stroke-width="1.6"/>
<path d="M465.6,222.5 C468,220 471,218.8 473.6,218.5 C477,218.5 481,219.3 484.4,219.8 C489,221 493,222.5 496.5,223.8 C500,225 502,225.8 504.6,226.5" stroke-width="1.9"/>
<path d="M448,233 l3,-1 M455,231 l2.5,-0.5 M458,233.5 l3,-1.5" stroke-width="1.3"/>
<path d="M464.6,224 C465,228 467,231 470,233" stroke-width="1.1"/>
<path d="M493,206.5 L499,207.5 L506,210.5 M491,211 L497,212 L503,214.5" stroke-width="1.4"/>
</g>
<path d="M437,249.5 C444,248.5 452,249.5 459,251 L461,254 C455,254.5 446,254 438,252 Z" fill="#f4f1f6" filter="url(#soft)"/>
</g>
</svg>
</body></html>
